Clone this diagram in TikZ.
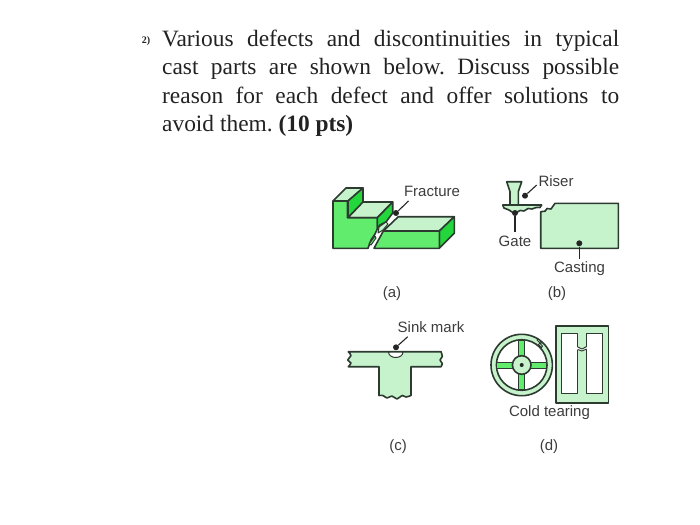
\documentclass[tikz,border=0pt]{standalone}
\usepackage{fontspec}
\setmainfont{Liberation Serif}
\setsansfont{Liberation Sans}
\definecolor{palegreen}{HTML}{C6F3CB}
\definecolor{midgreen}{HTML}{62EC6E}
\definecolor{deepgreen}{HTML}{22D63C}
\definecolor{edgegray}{HTML}{2C3A30}
\definecolor{inkgray}{HTML}{222222}
\definecolor{labelgray}{HTML}{3C3C3C}
\tikzset{
    part/.style = {draw=edgegray, line width=1.6pt, line join=round},
    thin part/.style = {draw=edgegray, line width=1pt, line join=round},
    label/.style = {font=\sffamily\fontsize{15}{17}\selectfont, text=labelgray, inner sep=0pt},
    lead/.style = {draw=black!85, line width=1.1pt},
    dot/.style = {circle, fill=black!85, inner sep=0pt, minimum size=6pt},
}
\begin{document}
\begin{tikzpicture}[x=1pt, y=-1pt]
    \useasboundingbox (0,0) rectangle (700,524);

    % question text
    \node[anchor=north west, text width=457pt, align=justify, inner sep=0pt, text=inkgray, font=\frenchspacing\fontsize{23.4}{28.5}\selectfont] (question) at (162,29.5)
        {Various defects and discontinuities in typical\linebreak cast parts are shown below. Discuss possible\linebreak reason for each defect and offer solutions to\linebreak avoid them. \textbf{(10 pts)}};
    \node[inner sep=0pt, text=inkgray, font=\bfseries\fontsize{10}{12}\selectfont] (number) at (146,41) {2)};

    % (a) fractured block
    \fill[part, fill=palegreen] (333,201) -- (346,188) -- (363,188) -- (348,201) -- cycle;
    \fill[part, fill=deepgreen] (348,201) -- (363,188) -- (363,203) -- (348,217.7) -- cycle;
    \fill[part, fill=palegreen] (348,217.7) -- (363,202) -- (392.7,202) -- (377.3,217.7) -- cycle;
    \fill[part, fill=midgreen] (333,201) -- (347.3,201) -- (347.3,217.7) -- (377.3,217.7) -- (377.3,229) -- (375,234) -- (371,240) -- (368,248.3) -- (333,248.3) -- cycle;
    \fill[part, fill=deepgreen] (377.3,217.7) -- (392.7,202) -- (392.7,213) -- (386,222) -- (380,225) -- (377.3,229) -- cycle;
    \fill[thin part, fill=palegreen] (386,222) -- (388,224) -- (383,230) -- (378,233) -- (379,227) -- cycle;
    \fill[thin part, fill=midgreen] (375,236) -- (376,238) -- (371,245) -- (369,244) -- cycle;
    \fill[part, fill=palegreen] (383.3,231) -- (398.3,216.7) -- (454.3,216.7) -- (439.3,231) -- cycle;
    \fill[part, fill=deepgreen] (439.3,231) -- (454.3,216.7) -- (454.3,233.3) -- (439.3,248.3) -- cycle;
    \fill[part, fill=midgreen] (374,248.3) -- (383.3,231) -- (439.3,231) -- (439.3,248.3) -- cycle;

    \node[label] (fracture) at (432,191.5) {Fracture};
    \node[dot] (fracturedot) at (396,213) {};
    \coordinate (fractureend) at (408.5,201);
    \draw[lead] (fracturedot) -- (fractureend);
    \node[label] (tagA) at (392,294) {(a)};

    % (b) riser, gate and casting
    \fill[part, fill=palegreen] (506.7,181.7) -- (521.7,181.7) -- (518.3,191.7) -- (518.3,205) -- (510,205) -- (510,191.7) -- cycle;
    \fill[part, fill=palegreen] (502.7,205) -- (541.7,205) -- (540,207.5) -- plot[smooth] coordinates {(540,207.5) (536,207.5) (532,209) (528,208.5) (524,211) (520,210.5) (515,214)} -- (509,210) -- (504,208) -- cycle;
    \fill[part, fill=palegreen] (540.7,211.7) -- (545,211.2) -- (547,208.5) -- (551,209) -- (555,203.3) -- (618.3,203.3) -- (618.3,248.3) -- (540.7,248.3) -- cycle;

    \node[label] (riser) at (556,181.5) {Riser};
    \node[dot] (riserdot) at (525,195.7) {};
    \coordinate (riserend) at (536.7,185);
    \draw[lead] (riserdot) -- (riserend);
    \node[label] (gate) at (515,241.5) {Gate};
    \node[dot] (gatedot) at (515,213) {};
    \coordinate (gateend) at (515,232);
    \draw[lead] (gatedot) -- (gateend);
    \node[label] (casting) at (579.5,268.5) {Casting};
    \node[dot] (castingdot) at (579.3,243.3) {};
    \coordinate (castingend) at (579.3,258.5);
    \draw[lead] (castingdot) -- (castingend);
    \node[label] (tagB) at (557,294) {(b)};

    % (c) tee with sink mark
    \fill[part, fill=palegreen] (348.3,351.7) -- (403.3,351.7) -- (441,351.7)
        -- plot[smooth] coordinates {(441,351.7) (442.3,356.5) (440,360) (442.3,363.5) (441,366.7)}
        -- (411,366.7) -- (411,395.5)
        -- plot[smooth] coordinates {(411,395.5) (406,397) (402,395.5) (397,399) (392,396) (387,398) (383,395.5) (379,395.5)}
        -- (379,366.7) -- (348.3,366.7)
        -- plot[smooth] coordinates {(348.3,366.7) (351,363) (347.7,360) (351,355.5) (348.3,351.7)} -- cycle;
    \fill[thin part, fill=white] (388.5,352) to[out=-90,in=180] (395.8,357.5) to[out=0,in=-90] (403,352) -- cycle;

    \node[label] (sink) at (431,327.5) {Sink mark};
    \node[dot] (sinkdot) at (396,347.3) {};
    \coordinate (sinkend) at (407.7,336.7);
    \draw[lead] (sinkdot) -- (sinkend);
    \node[label] (tagC) at (398,446.5) {(c)};

    % (d) wheel and frame with cold tears
    \fill[part, fill=palegreen] (521.7,365) circle (30.7);
    \fill[part, fill=white] (521.7,365) circle (25.3);
    \foreach \angle in {0,90,180,270} {
        \fill[thin part, fill=midgreen, rotate around={\angle:(521.7,365)}] (521.7,362) rectangle (546.5,368);
    }
    \fill[part, fill=palegreen] (521.7,365) circle (9.3);
    \fill[black!85] (521.7,365) circle (2);
    \fill[thin part, fill=white] (537,340) -- (540,343) -- (538.5,344.5) -- (541.5,347.5) -- (542.5,346) -- (540.5,344) -- (541.5,342.5) -- (538.5,339) -- cycle;

    \fill[part, fill=palegreen] (556,325.7) rectangle (608.3,402.7);
    \fill[thin part, fill=white] (561.7,333.3) rectangle (577.7,393.3);
    \fill[thin part, fill=white] (586.7,333.3) rectangle (602.7,393.3);
    \fill[white] (577,347) to[out=0,in=180] (582,349) to[out=0,in=180] (587.4,346.5) -- (587.4,349) to[out=180,in=0] (582,351) to[out=180,in=0] (577,349.5) -- cycle;
    \draw[thin part] (577.7,347) to[out=0,in=180] (582,349) to[out=0,in=180] (586.7,346.5);
    \draw[thin part] (577.7,349.5) to[out=0,in=180] (582,351) to[out=0,in=180] (586.7,349);

    \node[label] (tearing) at (549.5,412.5) {Cold tearing};
    \node[label] (tagD) at (549,446.5) {(d)};
\end{tikzpicture}
\end{document}
